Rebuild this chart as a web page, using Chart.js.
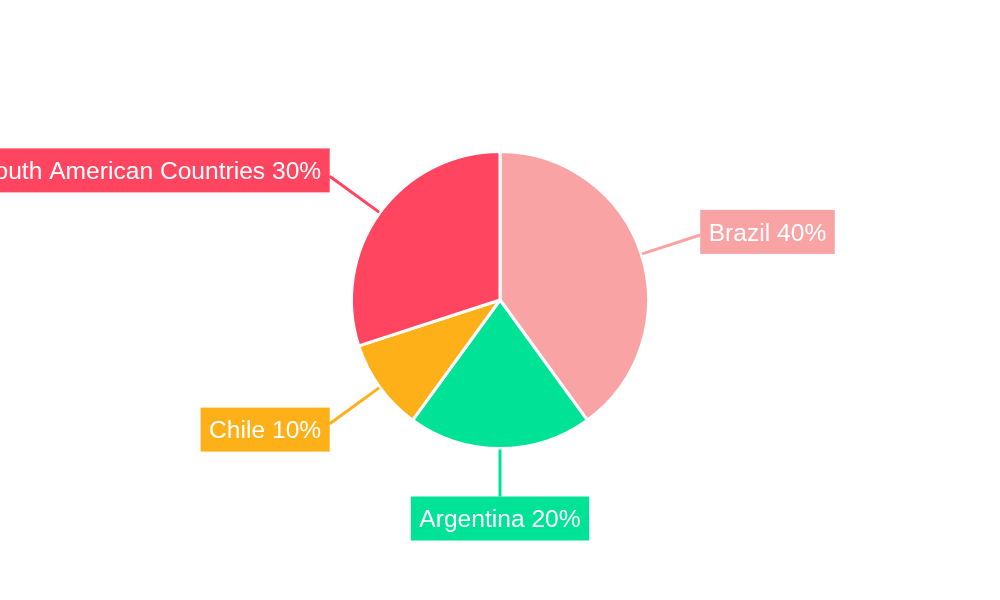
<!DOCTYPE html>
<html>
<head>
<meta charset="utf-8">
<script src="https://cdn.jsdelivr.net/npm/chart.js@4"></script>
<style>
  html, body { margin: 0; padding: 0; background: #fff; }
  #wrap { width: 1000px; height: 600px; }
</style>
</head>
<body>
<div id="wrap"><canvas id="c" width="1000" height="600"></canvas></div>
<script>
const categories = ["Brazil", "Argentina", "Chile", "Other South American Countries"];
const shares = [40, 20, 10, 30];
const colors = ["#F9A3A4", "#00E396", "#FEB019", "#FF4560"];

const labelPlugin = {
  id: 'leaderLabels',
  afterDraw(chart) {
    const ctx = chart.ctx;
    const meta = chart.getDatasetMeta(0);
    ctx.save();
    ctx.font = '24.6px "Liberation Sans", Arial, sans-serif';
    ctx.textBaseline = 'middle';
    meta.data.forEach((arc, i) => {
      const mid = (arc.startAngle + arc.endAngle) / 2;
      const cx = arc.x, cy = arc.y, r = arc.outerRadius;
      const ux = Math.cos(mid), uy = Math.sin(mid);
      const vertical = Math.abs(ux) < 0.3;
      const len = vertical ? 48 : 62;
      const sx = cx + ux * (r + 1), sy = cy + uy * (r + 1);
      const ex = cx + ux * (r + len), ey = cy + uy * (r + len);
      ctx.strokeStyle = colors[i];
      ctx.lineWidth = 3;
      ctx.beginPath();
      ctx.moveTo(sx, sy);
      ctx.lineTo(ex, ey);
      ctx.stroke();
      const text = categories[i] + ' ' + shares[i] + '%';
      const tw = ctx.measureText(text).width;
      const bw = tw + 17, bh = 44;
      let bx, by;
      if (vertical) {
        bx = ex - bw / 2;
        by = uy > 0 ? ey : ey - bh;
      } else {
        bx = ux > 0 ? ex : ex - bw;
        by = ey + uy * 10 - bh / 2;
      }
      ctx.fillStyle = colors[i];
      ctx.fillRect(bx, by, bw, bh);
      ctx.fillStyle = '#ffffff';
      ctx.textAlign = 'center';
      ctx.fillText(text, bx + bw / 2, by + bh / 2 + 2);
    });
    ctx.restore();
  }
};

new Chart(document.getElementById('c'), {
  type: 'pie',
  data: {
    labels: categories,
    datasets: [{
      data: shares,
      backgroundColor: colors,
      borderColor: '#ffffff',
      borderWidth: 3
    }]
  },
  options: {
    responsive: false,
    animation: false,
    layout: { padding: { top: 150, bottom: 150 } },
    plugins: { legend: { display: false }, tooltip: { enabled: false } }
  },
  plugins: [labelPlugin]
});
</script>
</body>
</html>
